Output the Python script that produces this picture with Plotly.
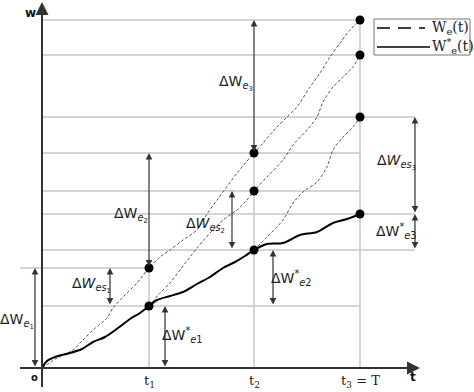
import plotly.graph_objects as go

# ---- data (t in chart units, w in chart units) ----
t_marks = [107, 212, 318]
t_labels = ["t<sub>1</sub>", "t<sub>2</sub>", "t<sub>3</sub> = T"]

# W*_e(t): solid curve
ws_t = [0, 5, 13, 28, 40, 51, 63, 76, 88, 98, 107, 115, 128, 141, 155, 168, 181, 193, 203, 212,
        225, 241, 258, 275, 291, 305, 318]
ws_w = [0, 7, 11, 15, 19, 26, 31, 40, 49, 55, 62, 68, 72, 76, 84, 91, 100, 106, 112, 118,
        124, 125, 133, 136, 145, 149, 154]

# W_e(t) dashed segments
wa_t = [0, 15, 31, 41, 51, 65, 71, 81, 95, 107, 118, 128, 141, 155, 165, 175, 181, 195, 212,
        221, 235, 245, 255, 268, 278, 288, 298, 308, 318]
wa_w = [0, 10, 18, 28, 38, 50, 60, 71, 85, 100, 111, 118, 128, 138, 154, 168, 176, 195, 215,
        225, 241, 251, 261, 281, 295, 311, 325, 338, 348]
wb_t = [107, 118, 128, 141, 155, 168, 181, 195, 205, 212, 225, 241, 251, 265, 275, 281, 291, 301, 311, 318]
wb_w = [62, 75, 85, 102, 120, 135, 148, 158, 168, 177, 191, 208, 223, 238, 251, 266, 281, 291, 301, 313]
wc_t = [212, 225, 241, 251, 261, 275, 285, 291, 301, 311, 318]
wc_w = [118, 131, 148, 165, 176, 186, 201, 218, 231, 241, 251]

# key points
dot_t = [107, 107, 212, 212, 212, 318, 318, 318, 318]
dot_w = [62, 100, 118, 177, 215, 154, 251, 313, 348]

# horizontal guide lines: (level, x_start, x_end)
h_levels = [348, 313, 251, 215, 177, 154, 118, 100, 62]
h_start = [0, 0, 0, 0, 0, 0, 0, -22, 0]
h_end = [318, 318, 373, 318, 318, 373, 373, 107, 318]
v_tops = [100, 215, 348]

# double arrows: x, w_top, w_bottom, label, label_x, label_w
arr_x = [-7, 68, 123, 107, 190, 231, 212, 373, 373]
arr_top = [100, 100, 62, 215, 177, 118, 348, 251, 154]
arr_bot = [0, 62, 0, 100, 118, 62, 215, 154, 118]
arr_lab = ["ΔW<sub><i>e</i><sub>1</sub></sub>", "Δ<i>W</i><sub><i>es</i><sub>1</sub></sub>",
           "ΔW<sup>*</sup><sub><i>e</i>1</sub>",
           "ΔW<sub><i>e</i><sub>2</sub></sub>", "Δ<i>W</i><sub><i>es</i><sub>2</sub></sub>",
           "ΔW<sup>*</sup><sub><i>e</i>2</sub>",
           "ΔW<sub><i>e</i><sub>3</sub></sub>", "Δ<i>W</i><sub><i>es</i><sub>3</sub></sub>",
           "ΔW<sup>*</sup><sub><i>e</i>3</sub>"]
lab_x = [-25, 49, 140, 89, 163, 249, 194, 354, 354]
lab_w = [47, 83, 33, 153, 143, 90, 285, 206, 137]

GRID = "#c6c6c6"
DARK = "#333333"

fig = go.Figure()

shapes = []
for lv, xs, xe in zip(h_levels, h_start, h_end):
    shapes.append(dict(type="line", x0=xs, x1=xe, y0=lv, y1=lv, layer="below",
                       line=dict(color=GRID, width=1.5)))
for tm, top in zip(t_marks, v_tops):
    shapes.append(dict(type="line", x0=tm, x1=tm, y0=0, y1=top, layer="below",
                       line=dict(color=GRID, width=1.5)))
# axes lines
shapes.append(dict(type="line", x0=-22, x1=370, y0=0, y1=0, line=dict(color=DARK, width=2)))
shapes.append(dict(type="line", x0=0, x1=0, y0=-19, y1=358, line=dict(color=DARK, width=2)))

# legend box (manual)
shapes.append(dict(type="rect", x0=332, x1=428, y0=313, y1=349, line=dict(color="#777", width=1),
                   fillcolor="white"))
shapes.append(dict(type="line", x0=335, x1=383, y0=340, y1=340,
                   line=dict(color="black", width=1.5, dash="13px,8px")))
shapes.append(dict(type="line", x0=335, x1=388, y0=321, y1=321,
                   line=dict(color="black", width=1.5)))

for tt, ww in [(wa_t, wa_w), (wb_t, wb_w), (wc_t, wc_w)]:
    fig.add_trace(go.Scatter(x=tt, y=ww, mode="lines", line=dict(color="#555", width=1, dash="3px,2px",
                                                                  shape="spline", smoothing=0.8),
                             showlegend=False, hoverinfo="skip"))
fig.add_trace(go.Scatter(x=ws_t, y=ws_w, mode="lines", line=dict(color="black", width=2,
                                                                  shape="spline", smoothing=0.8),
                         showlegend=False, hoverinfo="skip"))
fig.add_trace(go.Scatter(x=dot_t, y=dot_w, mode="markers", marker=dict(color="black", size=9),
                         showlegend=False, hoverinfo="skip"))

ann = []
# axis arrowheads
ann.append(dict(x=378, y=0, ax=360, ay=0, xref="x", yref="y", axref="x", ayref="y", text="",
                showarrow=True, arrowhead=2, arrowsize=1.3, arrowwidth=2, arrowcolor=DARK, standoff=0))
ann.append(dict(x=0, y=366, ax=0, ay=350, xref="x", yref="y", axref="x", ayref="y", text="",
                showarrow=True, arrowhead=2, arrowsize=1.3, arrowwidth=2, arrowcolor=DARK, standoff=0))
# double arrows
for x, a, b in zip(arr_x, arr_top, arr_bot):
    ann.append(dict(x=x, y=a, ax=x, ay=b, xref="x", yref="y", axref="x", ayref="y", text="",
                    showarrow=True, arrowhead=2, startarrowhead=2, arrowside="end+start",
                    arrowsize=1.1, startarrowsize=1.1, arrowwidth=1.2, arrowcolor=DARK,
                    standoff=0, startstandoff=0))
for s, x, w in zip(arr_lab, lab_x, lab_w):
    ann.append(dict(x=x, y=w, xref="x", yref="y", text=s, showarrow=False,
                    font=dict(family="DejaVu Sans", size=14, color="#222")))
# tick labels
for tm, tl in zip(t_marks, t_labels):
    ann.append(dict(x=tm, y=-13, xref="x", yref="y", text=tl, showarrow=False,
                    font=dict(family="DejaVu Serif", size=13, color="#222")))
ann.append(dict(x=-12, y=355, xref="x", yref="y", text="<b>w</b>", showarrow=False,
                font=dict(family="DejaVu Sans", size=12, color="#111")))
ann.append(dict(x=371, y=-9, xref="x", yref="y", text="<b>t</b>", showarrow=False,
                font=dict(family="DejaVu Sans", size=12, color="#111")))
ann.append(dict(x=-8, y=-9, xref="x", yref="y", text="<b>o</b>", showarrow=False,
                font=dict(family="DejaVu Sans", size=10, color="#111")))
# legend labels
ann.append(dict(x=388, y=340, xref="x", yref="y", xanchor="left", text="W<sub>e</sub>(t)", showarrow=False,
                font=dict(family="DejaVu Serif", size=14, color="#222")))
ann.append(dict(x=388, y=322, xref="x", yref="y", xanchor="left", text="W<sup>*</sup><sub>e</sub>(t)",
                showarrow=False, font=dict(family="DejaVu Serif", size=14, color="#222")))

fig.update_layout(
    width=474, height=392, margin=dict(l=0, r=0, t=0, b=0),
    plot_bgcolor="white", paper_bgcolor="white",
    xaxis=dict(range=[-42, 432], visible=False, fixedrange=True),
    yaxis=dict(range=[-24, 368], visible=False, fixedrange=True),
    shapes=shapes, annotations=ann,
)
fig.write_html("out.html")
